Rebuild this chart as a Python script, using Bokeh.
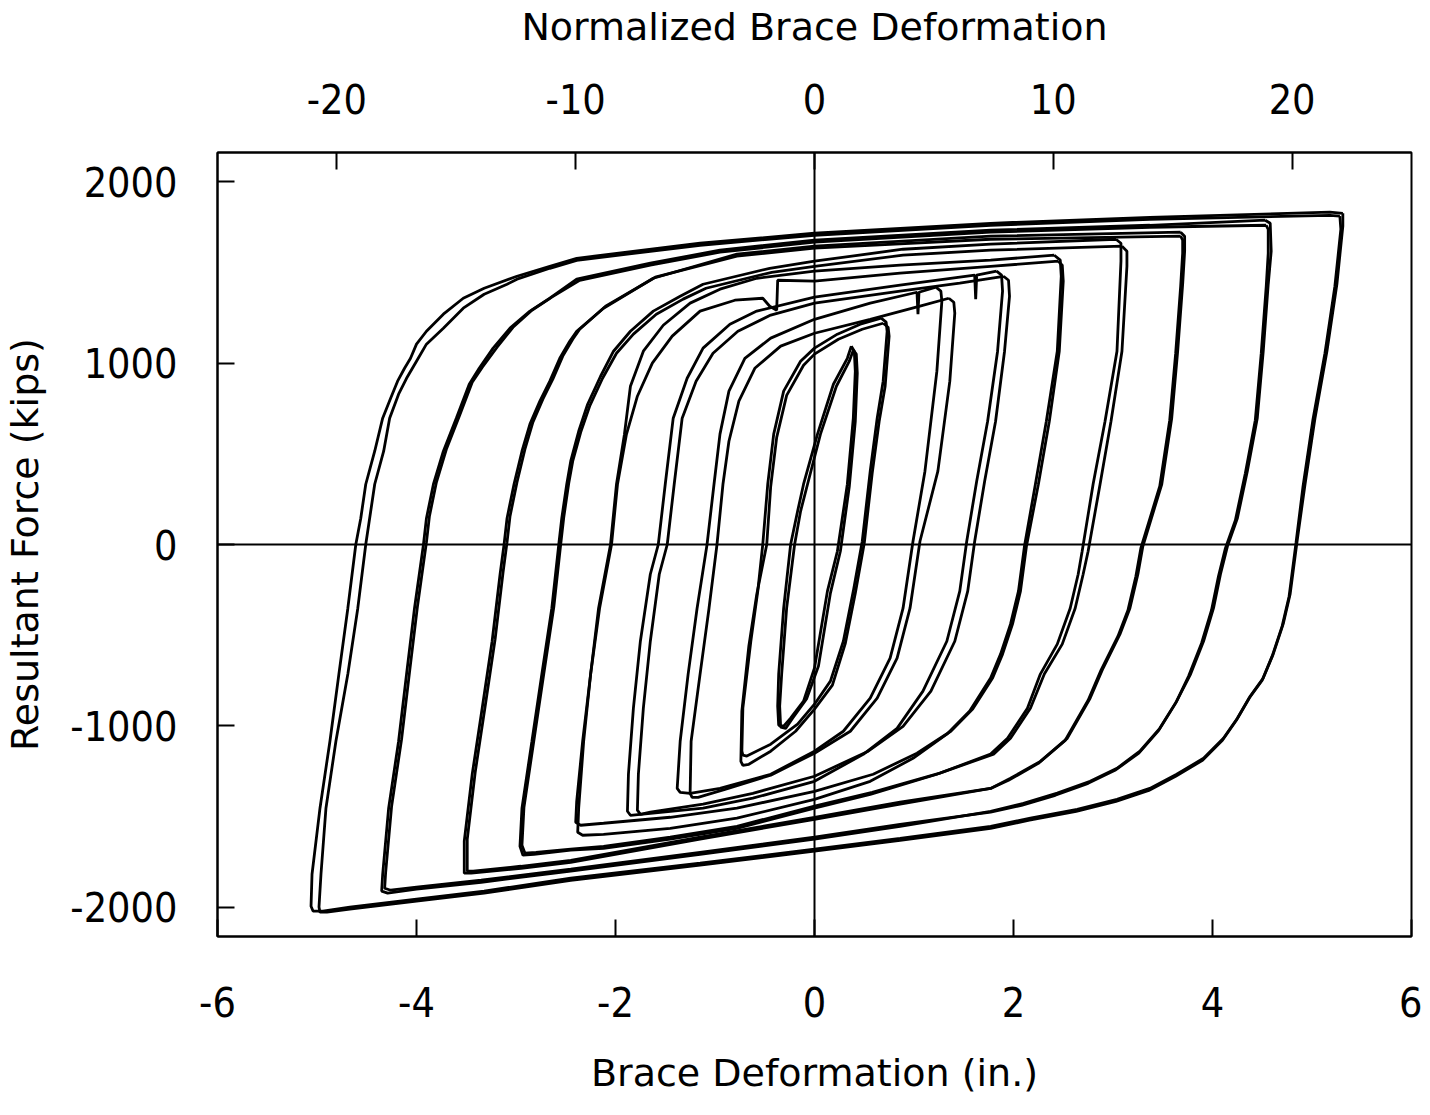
from bokeh.plotting import figure
from bokeh.models import Range1d, LinearAxis, FixedTicker, Span, CustomJSTickFormatter
from bokeh.embed import file_html
from bokeh.resources import INLINE

# ---------------- data (brace deformation in inches, resultant force in kips) ----------------
x_ticks = [-6, -4, -2, 0, 2, 4, 6]
y_ticks = [-2000, -1000, 0, 1000, 2000]
norm_ticks = [-20, -10, 0, 10, 20]

c1a_x = [0.37, 0.40, 0.41, 0.39, 0.33, 0.23, 0.13, 0.00, -0.11, -0.24, -0.31, -0.36, -0.37, -0.36, -0.31, -0.24, -0.17, -0.11, 0.03, 0.19, 0.33, 0.37]
c1a_y = [1093, 1065, 955, 696, 332, -37, -257, -680, -863, -957, -1001, -996, -891, -714, -351, 0, 183, 332, 608, 883, 1026, 1093]
c1b_x = [0.39, 0.42, 0.43, 0.41, 0.35, 0.26, 0.16, 0.04, -0.08, -0.22, -0.29, -0.34, -0.35, -0.33, -0.28, -0.20, -0.14, -0.07, 0.06, 0.22, 0.35, 0.39]
c1b_y = [1071, 1049, 944, 679, 321, -37, -268, -669, -851, -957, -1013, -1007, -891, -714, -351, 0, 183, 332, 608, 872, 1010, 1071]

c2a_x = [0.67, 0.72, 0.73, 0.69, 0.63, 0.56, 0.48, 0.39, 0.29, 0.16, 0.00, -0.17, -0.44, -0.68, -0.72, -0.73, -0.72, -0.64, -0.57, -0.52, -0.47, -0.41, -0.31, -0.14, 0.00, 0.23, 0.46, 0.67]
c2a_y = [1247, 1225, 1175, 900, 696, 404, 18, -257, -533, -753, -880, -990, -1100, -1166, -1161, -1139, -902, -533, -257, 0, 332, 608, 845, 1010, 1082, 1159, 1214, 1247]
c2b_x = [0.69, 0.74, 0.75, 0.71, 0.65, 0.58, 0.50, 0.41, 0.31, 0.18, 0.00, -0.19, -0.44, -0.66, -0.72, -0.74, -0.73, -0.66, -0.58, -0.48, -0.44, -0.38, -0.28, -0.11, 0.00, 0.24, 0.48, 0.69]
c2b_y = [1219, 1197, 1148, 872, 679, 393, 7, -268, -544, -775, -907, -1029, -1139, -1211, -1217, -1195, -918, -560, -274, 0, 321, 590, 822, 988, 1049, 1131, 1186, 1219]

c3a_x = [1.22, 1.27, 1.28, 1.23, 1.11, 0.99, 0.89, 0.76, 0.56, 0.29, 0.00, -0.44, -0.95, -1.25, -1.35, -1.38, -1.35, -1.27, -1.18, -1.08, -1.01, -0.95, -0.86, -0.70, -0.44, 0.00, 0.56, 1.03, 1.04, 1.05, 1.22]
c3a_y = [1418, 1396, 1341, 955, 404, 18, -351, -626, -847, -1029, -1139, -1266, -1344, -1371, -1366, -1344, -1084, -714, -351, 0, 332, 608, 845, 1026, 1137, 1241, 1330, 1390, 1269, 1390, 1418]
c3b_x = [1.35, 1.40, 1.41, 1.36, 1.24, 1.06, 0.96, 0.83, 0.63, 0.36, 0.00, -0.44, -0.90, -1.17, -1.23, -1.25, -1.24, -1.15, -1.06, -0.98, -0.92, -0.86, -0.76, -0.60, -0.34, 0.00, 0.56, 1.06, 1.35]
c3b_y = [1357, 1335, 1275, 900, 404, 18, -351, -626, -847, -1029, -1150, -1271, -1349, -1393, -1393, -1371, -1084, -714, -351, 0, 332, 569, 790, 971, 1093, 1164, 1241, 1313, 1357]

c4a_x = [1.90, 1.95, 1.96, 1.91, 1.82, 1.71, 1.61, 1.54, 1.41, 1.17, 0.89, 0.54, 0.00, -0.62, -1.12, -1.65, -1.75, -1.78, -1.77, -1.72, -1.65, -1.56, -1.48, -1.41, -1.33, -1.19, -1.02, -0.77, -0.44, 0.00, 0.86, 1.46, 1.90]
c4a_y = [1478, 1456, 1368, 1065, 679, 349, 18, -257, -533, -808, -1002, -1139, -1277, -1371, -1431, -1475, -1487, -1464, -1266, -902, -533, -164, 0, 332, 696, 900, 1054, 1175, 1264, 1330, 1396, 1440, 1478]
c4b_x = [1.83, 1.88, 1.89, 1.84, 1.74, 1.63, 1.53, 1.46, 1.33, 1.09, 0.83, 0.49, 0.00, -0.62, -1.12, -1.75, -1.85, -1.88, -1.87, -1.82, -1.75, -1.65, -1.57, -1.50, -1.42, -1.28, -1.12, -0.85, -0.58, 0.00, 0.86, 1.61, 1.62, 1.63, 1.83]
c4b_y = [1506, 1484, 1396, 1065, 679, 349, 18, -257, -533, -808, -1013, -1156, -1305, -1398, -1453, -1487, -1492, -1470, -1266, -902, -533, -164, 0, 332, 696, 916, 1082, 1214, 1286, 1363, 1429, 1484, 1352, 1484, 1506]

c5a_x = [2.41, 2.47, 2.48, 2.44, 2.33, 2.22, 2.11, 2.05, 1.97, 1.87, 1.77, 1.56, 1.33, 0.99, 0.56, 0.00, -0.78, -1.45, -2.12, -2.33, -2.38, -2.37, -2.32, -2.25, -2.17, -2.05, -1.99, -1.91, -1.85, -1.72, -1.52, -1.25, -0.95, -0.58, 0.00, 0.86, 1.77, 2.41]
c5a_y = [1594, 1567, 1478, 1065, 679, 332, -10, -257, -439, -604, -736, -918, -1045, -1178, -1305, -1404, -1508, -1564, -1597, -1602, -1586, -1453, -1084, -714, -351, 0, 332, 608, 872, 1065, 1208, 1330, 1407, 1467, 1506, 1539, 1567, 1594]
c5b_x = [2.45, 2.49, 2.50, 2.46, 2.36, 2.25, 2.13, 2.07, 1.99, 1.89, 1.79, 1.59, 1.37, 1.03, 0.59, 0.00, -0.78, -1.45, -2.12, -2.35, -2.40, -2.39, -2.33, -2.25, -2.16, -2.04, -1.98, -1.89, -1.78, -1.63, -1.43, -1.15, -0.80, -0.52, -0.45, -0.38, -0.37, 0.00, 0.86, 1.77, 2.45]
c5b_y = [1561, 1539, 1451, 1065, 679, 332, -10, -257, -439, -604, -736, -907, -1029, -1150, -1266, -1360, -1453, -1503, -1536, -1547, -1531, -1415, -1084, -714, -351, 0, 332, 607, 817, 999, 1148, 1286, 1346, 1357, 1313, 1291, 1456, 1451, 1495, 1533, 1561]

c6a_x = [3.03, 3.08, 3.08, 3.04, 2.92, 2.80, 2.69, 2.65, 2.57, 2.44, 2.27, 2.14, 1.94, 1.77, 1.23, 0.56, 0.00, -0.78, -1.45, -2.12, -2.45, -2.82, -2.93, -2.96, -2.94, -2.84, -2.74, -2.64, -2.57, -2.54, -2.49, -2.45, -2.37, -2.28, -2.15, -2.02, -1.85, -1.62, -1.35, -1.12, -0.45, 0.00, 0.89, 1.77, 3.03]
c6a_y = [1682, 1660, 1561, 1065, 679, 332, -37, -164, -351, -549, -714, -902, -1068, -1155, -1266, -1377, -1453, -1564, -1624, -1674, -1684, -1707, -1712, -1663, -1453, -1084, -714, -351, 0, 145, 332, 459, 624, 773, 927, 1065, 1175, 1286, 1368, 1434, 1522, 1561, 1627, 1655, 1682]
c6b_x = [3.09, 3.14, 3.14, 3.09, 2.98, 2.87, 2.75, 2.70, 2.62, 2.49, 2.31, 2.17, 1.97, 1.80, 1.26, 0.58, 0.00, -0.78, -1.45, -2.12, -2.45, -2.80, -2.91, -2.94, -2.92, -2.82, -2.72, -2.62, -2.55, -2.52, -2.47, -2.43, -2.35, -2.26, -2.13, -1.99, -1.82, -1.59, -1.32, -1.09, -0.43, 0.00, 0.89, 1.77, 3.09]
c6b_y = [1644, 1616, 1533, 1065, 679, 332, -37, -164, -351, -549, -714, -902, -1068, -1155, -1260, -1366, -1442, -1553, -1613, -1663, -1679, -1696, -1701, -1657, -1448, -1079, -709, -345, 5, 150, 337, 459, 618, 762, 916, 1054, 1159, 1269, 1352, 1412, 1500, 1533, 1594, 1622, 1644]

c7a_x = [3.68, 3.72, 3.72, 3.70, 3.65, 3.59, 3.49, 3.30, 3.25, 3.17, 3.07, 2.90, 2.77, 2.54, 2.27, 1.97, 1.77, 0.86, 0.00, -1.15, -2.45, -2.95, -3.45, -3.52, -3.52, -3.44, -3.34, -3.24, -3.16, -3.12, -3.09, -3.02, -2.94, -2.86, -2.76, -2.66, -2.56, -2.46, -2.39, -2.12, -1.62, -0.78, 0.00, 1.77, 3.68]
c7a_y = [1721, 1699, 1616, 1434, 1065, 696, 332, -10, -164, -351, -494, -682, -847, -1068, -1195, -1288, -1344, -1431, -1514, -1624, -1751, -1784, -1811, -1811, -1635, -1266, -902, -533, -164, 0, 145, 332, 514, 663, 790, 900, 1026, 1120, 1175, 1302, 1467, 1600, 1644, 1699, 1721]
c7b_x = [3.68, 3.70, 3.70, 3.68, 3.63, 3.57, 3.47, 3.28, 3.23, 3.15, 3.05, 2.88, 2.75, 2.52, 2.25, 1.95, 1.77, 0.86, 0.00, -1.15, -2.45, -2.95, -3.43, -3.49, -3.49, -3.41, -3.31, -3.21, -3.13, -3.09, -3.06, -2.99, -2.91, -2.83, -2.73, -2.63, -2.53, -2.43, -2.36, -2.10, -1.60, -0.78, 0.00, 1.77, 3.68]
c7b_y = [1699, 1677, 1605, 1423, 1054, 685, 321, -20, -175, -362, -505, -692, -858, -1079, -1206, -1299, -1344, -1420, -1503, -1613, -1740, -1773, -1800, -1800, -1624, -1255, -891, -522, -153, 13, 156, 343, 525, 674, 801, 911, 1038, 1131, 1186, 1313, 1473, 1589, 1633, 1682, 1699]

c8a_x = [4.53, 4.58, 4.59, 4.56, 4.51, 4.45, 4.35, 4.25, 4.15, 4.08, 4.01, 3.91, 3.78, 3.64, 3.47, 3.27, 3.04, 2.77, 2.44, 2.10, 1.77, 0.86, 0.00, -1.15, -2.45, -3.35, -4.00, -4.29, -4.35, -4.34, -4.28, -4.18, -4.10, -4.02, -3.93, -3.90, -3.83, -3.73, -3.60, -3.47, -3.37, -3.23, -3.06, -2.86, -2.66, -2.39, -1.65, -0.95, 0.00, 1.77, 3.37, 4.53]
c8a_y = [1787, 1770, 1616, 1434, 1065, 696, 404, 145, -10, -164, -351, -533, -714, -863, -1013, -1139, -1233, -1305, -1370, -1426, -1470, -1553, -1624, -1707, -1800, -1861, -1899, -1921, -1910, -1817, -1453, -1084, -714, -351, 0, 145, 332, 514, 696, 883, 971, 1082, 1192, 1286, 1357, 1462, 1550, 1622, 1677, 1732, 1759, 1787]
c8b_x = [4.54, 4.56, 4.56, 4.54, 4.49, 4.43, 4.33, 4.23, 4.13, 4.06, 3.99, 3.89, 3.76, 3.63, 3.46, 3.26, 3.02, 2.75, 2.42, 2.08, 1.77, 0.86, 0.00, -1.15, -2.45, -3.35, -4.00, -4.26, -4.32, -4.31, -4.25, -4.15, -4.07, -3.99, -3.90, -3.87, -3.80, -3.70, -3.57, -3.44, -3.34, -3.19, -3.03, -2.84, -2.64, -2.36, -1.65, -0.95, 0.00, 1.77, 3.37, 4.54]
c8b_y = [1759, 1737, 1605, 1423, 1054, 685, 393, 134, -20, -175, -362, -544, -725, -874, -1024, -1150, -1244, -1316, -1382, -1437, -1475, -1542, -1613, -1696, -1789, -1850, -1888, -1905, -1894, -1806, -1442, -1073, -703, -340, 13, 156, 343, 525, 707, 894, 976, 1087, 1197, 1291, 1363, 1456, 1539, 1611, 1666, 1721, 1748, 1759]

c9a_x = [5.31, 5.31, 5.25, 5.15, 5.03, 4.93, 4.85, 4.78, 4.71, 4.61, 4.51, 4.38, 4.25, 4.11, 3.91, 3.64, 3.37, 3.04, 2.64, 2.17, 1.77, 0.86, 0.00, -1.15, -2.45, -3.32, -4.00, -4.67, -4.94, -5.04, -5.06, -5.05, -4.97, -4.87, -4.78, -4.69, -4.61, -4.56, -4.51, -4.42, -4.34, -4.26, -4.19, -4.12, -4.06, -4.00, -3.90, -3.73, -3.53, -3.32, -2.99, -2.66, -2.39, -1.15, 0.00, 1.77, 3.37, 5.18, 5.31]
c9a_y = [1825, 1754, 1434, 1065, 696, 332, 18, -274, -439, -604, -736, -835, -957, -1068, -1178, -1266, -1344, -1404, -1459, -1508, -1553, -1619, -1679, -1756, -1839, -1910, -1954, -1998, -2020, -2020, -1993, -1817, -1453, -1084, -714, -351, 0, 145, 332, 514, 696, 806, 900, 971, 1026, 1104, 1175, 1269, 1357, 1412, 1478, 1533, 1577, 1660, 1715, 1770, 1803, 1831, 1825]
c9b_x = [5.28, 5.29, 5.23, 5.13, 5.01, 4.91, 4.84, 4.77, 4.70, 4.60, 4.50, 4.37, 4.24, 4.10, 3.90, 3.63, 3.36, 3.03, 2.63, 2.16, 1.77, 0.86, 0.00, -1.15, -2.45, -3.32, -4.00, -4.67, -4.90, -4.97, -4.98, -4.96, -4.91, -4.81, -4.69, -4.59, -4.51, -4.42, -4.33, -4.27, -4.18, -4.10, -4.00, -3.90, -3.73, -3.53, -3.32, -3.09, -2.99, -2.66, -2.39, -1.15, 0.00, 1.77, 3.37, 5.18, 5.28]
c9b_y = [1809, 1737, 1423, 1054, 690, 321, 13, -285, -450, -615, -747, -846, -968, -1079, -1189, -1277, -1355, -1415, -1470, -1519, -1564, -1630, -1690, -1767, -1850, -1921, -1965, -2009, -2026, -2026, -1998, -1817, -1453, -1084, -714, -351, 0, 332, 514, 696, 828, 916, 1010, 1104, 1192, 1302, 1379, 1434, 1462, 1522, 1566, 1649, 1704, 1759, 1792, 1814, 1809]

cycles = [
    (c1a_x, c1a_y), (c1b_x, c1b_y),
    (c2a_x, c2a_y), (c2b_x, c2b_y),
    (c3a_x, c3a_y), (c3b_x, c3b_y),
    (c4a_x, c4a_y), (c4b_x, c4b_y),
    (c5a_x, c5a_y), (c5b_x, c5b_y),
    (c6a_x, c6a_y), (c6b_x, c6b_y),
    (c7a_x, c7a_y), (c7b_x, c7b_y),
    (c8a_x, c8a_y), (c8b_x, c8b_y),
    (c9a_x, c9a_y), (c9b_x, c9b_y),
]

# ---------------- figure ----------------
TICK_FONT = "DejaVu Sans Condensed"
LABEL_FONT = "DejaVu Sans"

p = figure(width=1422, height=1105,
           x_range=Range1d(-6, 6), y_range=Range1d(-2160, 2160),
           output_backend="svg", toolbar_location=None,
           min_border_left=216, min_border_right=11,
           min_border_top=152, min_border_bottom=169,
           x_axis_label="Brace Deformation (in.)",
           y_axis_label="Resultant Force (kips)")
p.extra_x_ranges = {"norm": Range1d(-25, 25)}
top_axis = LinearAxis(x_range_name="norm", axis_label="Normalized Brace Deformation")
p.add_layout(top_axis, "above")

p.xgrid.visible = False
p.ygrid.visible = False
p.outline_line_color = "black"
p.outline_line_width = 2
p.background_fill_color = "white"
p.border_fill_color = "white"

def style(ax, ticks, label_standoff, axis_label_standoff):
    ax.ticker = FixedTicker(ticks=ticks)
    ax.formatter = CustomJSTickFormatter(code="return String(tick);")
    ax.axis_line_color = "black"
    ax.axis_line_width = 2
    ax.major_tick_in = 17
    ax.major_tick_out = 0
    ax.minor_tick_in = 0
    ax.minor_tick_out = 0
    ax.major_tick_line_color = "black"
    ax.major_tick_line_width = 2
    ax.major_label_text_font = TICK_FONT
    ax.major_label_text_font_size = "41px"
    ax.major_label_text_color = "black"
    ax.major_label_standoff = label_standoff
    ax.axis_label_text_font = LABEL_FONT
    ax.axis_label_text_font_size = "38px"
    ax.axis_label_text_font_style = "normal"
    ax.axis_label_text_color = "black"
    ax.axis_label_standoff = axis_label_standoff

style(p.below[0], x_ticks, 50, 31)
style(p.left[0], y_ticks, 40, 20)
style(top_axis, norm_ticks, 39, 32)

p.add_layout(Span(location=0, dimension="height", line_color="black", line_width=2))
p.add_layout(Span(location=0, dimension="width", line_color="black", line_width=2))

for cx, cy in cycles:
    p.line(cx, cy, line_color="black", line_width=2.8)

open("out.html", "w").write(file_html(p, INLINE))
